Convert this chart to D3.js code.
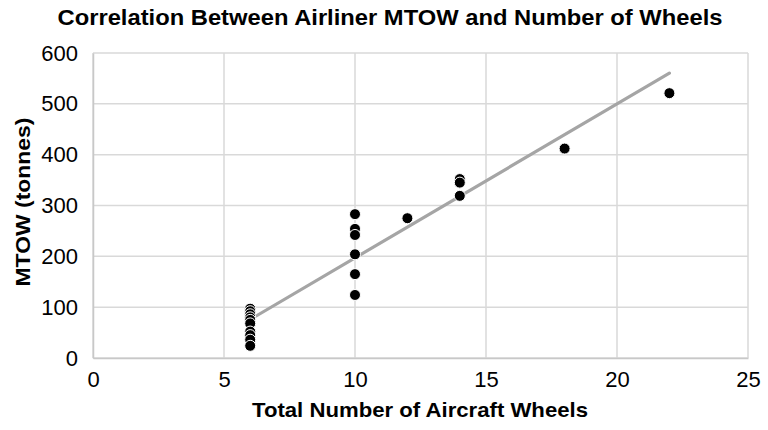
<!DOCTYPE html>
<html>
<head>
<meta charset="utf-8">
<script src="https://cdn.jsdelivr.net/npm/d3@7.9.0/dist/d3.min.js"></script>
<style>
  body { margin: 0; background: #fff; }
  svg { display: block; font-family: "Liberation Sans", Arial, sans-serif; }
</style>
</head>
<body>
<svg id="chart" width="768" height="430"></svg>
<script>
// wheels per aircraft and MTOW (tonnes)
const wheels = [6, 6, 6, 6, 6, 6, 6, 6, 6, 6,
                10, 10, 10, 10, 10, 10,
                12,
                14, 14, 14,
                18,
                22];
const mtow = [97, 92, 86, 80, 75, 68, 52, 45, 36, 24,
              283, 254, 242, 204, 165, 124,
              275,
              352, 345, 319,
              412,
              521];
const xTicks = [0, 5, 10, 15, 20, 25];
const yTicks = [0, 100, 200, 300, 400, 500, 600];

const svg = d3.select('#chart');
const margin = { top: 53, right: 20, bottom: 72, left: 93 };
const width = 768 - margin.left - margin.right;
const height = 430 - margin.top - margin.bottom;

const x = d3.scaleLinear().domain([0, 25]).range([margin.left, margin.left + width]);
const y = d3.scaleLinear().domain([0, 600]).range([margin.top + height, margin.top]);

/* gridlines */
svg.append('g')
  .selectAll('line.v')
  .data(xTicks)
  .join('line')
  .attr('x1', d => x(d)).attr('x2', d => x(d))
  .attr('y1', y(0)).attr('y2', y(600))
  .attr('stroke', '#d9d9d9').attr('stroke-width', 1.5);

svg.append('g')
  .selectAll('line.h')
  .data(yTicks)
  .join('line')
  .attr('x1', x(0)).attr('x2', x(25))
  .attr('y1', d => y(d)).attr('y2', d => y(d))
  .attr('stroke', '#d9d9d9').attr('stroke-width', 1.5);

/* axes */
const xAxis = svg.append('g')
  .attr('transform', `translate(0,${y(0)})`)
  .call(d3.axisBottom(x).tickValues(xTicks).tickSize(0).tickPadding(13));
xAxis.select('.domain').attr('stroke', '#c8c8c8').attr('stroke-width', 1.5);
xAxis.selectAll('text').attr('font-size', 22).attr('fill', '#000')
  .attr('font-family', '"Liberation Sans", Arial, sans-serif');

const yAxis = svg.append('g')
  .attr('transform', `translate(${x(0)},0)`)
  .call(d3.axisLeft(y).tickValues(yTicks).tickSize(0).tickPadding(15));
yAxis.select('.domain').attr('stroke', '#c8c8c8').attr('stroke-width', 1.5);
yAxis.selectAll('text').attr('font-size', 22).attr('fill', '#000')
  .attr('font-family', '"Liberation Sans", Arial, sans-serif');

/* linear trendline, least squares */
const mx = d3.mean(wheels), my = d3.mean(mtow);
let sxy = 0, sxx = 0;
wheels.forEach((w, i) => {
  sxy += (w - mx) * (mtow[i] - my);
  sxx += (w - mx) * (w - mx);
});
const slope = sxy / sxx;
const intercept = my - slope * mx;
const [xMin, xMax] = d3.extent(wheels);

svg.append('line')
  .attr('x1', x(xMin)).attr('y1', y(intercept + slope * xMin))
  .attr('x2', x(xMax)).attr('y2', y(intercept + slope * xMax))
  .attr('stroke', '#a5a5a5').attr('stroke-width', 3.2)
  .attr('stroke-linecap', 'round');

/* points */
svg.append('g')
  .selectAll('circle')
  .data(wheels.map((w, i) => ({ w, m: mtow[i] })))
  .join('circle')
  .attr('cx', d => x(d.w))
  .attr('cy', d => y(d.m))
  .attr('r', 5.5)
  .attr('fill', '#000')
  .attr('stroke', '#fff')
  .attr('stroke-width', 1);

/* titles */
svg.append('text')
  .attr('x', 390).attr('y', 25)
  .attr('text-anchor', 'middle')
  .attr('font-size', 22).attr('font-weight', 'bold')
  .attr('textLength', 665).attr('lengthAdjust', 'spacingAndGlyphs')
  .text('Correlation Between Airliner MTOW and Number of Wheels');

svg.append('text')
  .attr('x', 420).attr('y', 417)
  .attr('text-anchor', 'middle')
  .attr('font-size', 21).attr('font-weight', 'bold')
  .attr('textLength', 336).attr('lengthAdjust', 'spacingAndGlyphs')
  .text('Total Number of Aircraft Wheels');

svg.append('text')
  .attr('transform', `translate(30,202) rotate(-90)`)
  .attr('text-anchor', 'middle')
  .attr('font-size', 21).attr('font-weight', 'bold')
  .attr('textLength', 169).attr('lengthAdjust', 'spacingAndGlyphs')
  .text('MTOW (tonnes)');
</script>
</body>
</html>
